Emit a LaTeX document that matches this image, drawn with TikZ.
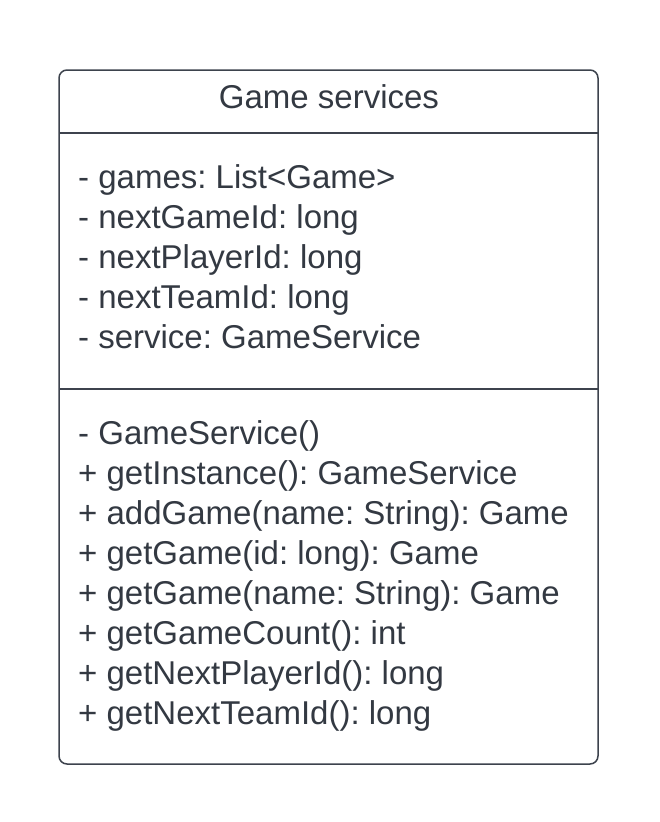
\documentclass[tikz,border=0pt]{standalone}
\usepackage{fontspec}
\setmainfont{Liberation Sans}
\definecolor{linec}{HTML}{3D434D}
\definecolor{textc}{HTML}{333942}
\frenchspacing
\begin{document}
\begin{tikzpicture}[x=1pt,y=-1pt,
  txt/.style={anchor=base west,inner sep=0pt,text=textc,font=\fontsize{33}{38}\selectfont\frenchspacing},
  ttl/.style={anchor=base,inner sep=0pt,text=textc,font=\fontsize{33}{38}\selectfont\frenchspacing}]
\useasboundingbox[fill=white] (0,0) rectangle (660,822);
\draw[linec,line width=1.5pt,rounded corners=8pt] (59,70) rectangle (598,764);
\draw[linec,line width=1.5pt] (59,133) -- (598,133);
\draw[linec,line width=1.5pt] (59,389) -- (598,389);
\node[ttl] (title) at (329,108) {Game services};
\node[txt] (a1) at (78,188) {- games: List<Game>};
\node[txt] (a2) at (78,228) {- nextGameId: long};
\node[txt] (a3) at (78,268) {- nextPlayerId: long};
\node[txt] (a4) at (78,308) {- nextTeamId: long};
\node[txt] (a5) at (78,348) {- service: GameService};
\node[txt] (m1) at (78,444) {- GameService()};
\node[txt] (m2) at (78,484) {+ getInstance(): GameService};
\node[txt] (m3) at (78,524) {+ addGame(name: String): Game};
\node[txt] (m4) at (78,564) {+ getGame(id: long): Game};
\node[txt] (m5) at (78,604) {+ getGame(name: String): Game};
\node[txt] (m6) at (78,644) {+ getGameCount(): int};
\node[txt] (m7) at (78,684) {+ getNextPlayerId(): long};
\node[txt] (m8) at (78,724) {+ getNextTeamId(): long};
\end{tikzpicture}
\end{document}
